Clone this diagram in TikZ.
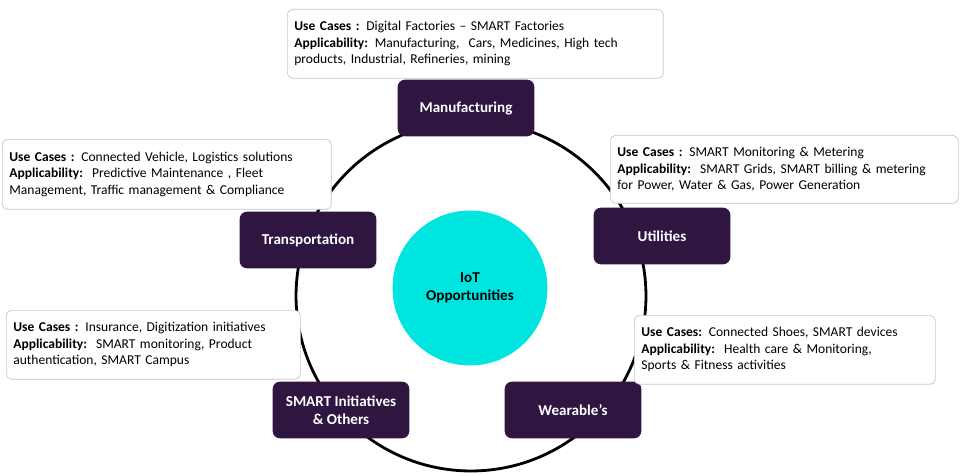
\documentclass[tikz,border=0pt]{standalone}
\usepackage{fontspec}
\setmainfont{Carlito}
\definecolor{plum}{HTML}{2E1641}
\definecolor{aqua}{HTML}{00E5E0}
\begin{document}
\begin{tikzpicture}[x=0.02cm,y=-0.02cm,
	sector/.style={draw=plum,fill=plum,rounded corners=4pt,minimum width=2.72cm,minimum height=1.12cm,
		text=white,font=\fontsize{8.6}{10}\selectfont\bfseries,align=center},
	usebox/.style={draw=black!22,fill=white,rounded corners=3pt,anchor=north west,align=left,
		inner sep=4pt,font=\fontsize{7.7}{9.4}\selectfont}]
	\useasboundingbox (0,0) rectangle (970,476);
	% ring and centre
	\draw[line width=1.6pt] (471,296) circle[radius=3.5cm];
	\node[circle,fill=aqua,minimum size=3.1cm,font=\fontsize{8.6}{10}\selectfont\bfseries,align=center] (iot) at (470,288) {IoT\\Opportunities};
	% sectors
	\node[sector] (manu) at (466,108) {Manufacturing};
	\node[sector] (trans) at (308,240) {Transportation};
	\node[sector] (util) at (662,236) {Utilities};
	\node[sector] (smart) at (341,410) {SMART Initiatives\\\& Others};
	\node[sector] (wear) at (573,410) {Wearable's};
	% use cases
	\node[usebox,minimum width=7.52cm,minimum height=1.38cm,text width=7.24cm] (manubox) at (287,9)
		{\textbf{Use Cases :} Digital Factories -- SMART Factories\\\textbf{Applicability:} Manufacturing,\ \ Cars, Medicines, High tech\\products, Industrial, Refineries, mining};
	\node[usebox,minimum width=6.58cm,minimum height=1.4cm,text width=6.3cm] (transbox) at (2,139)
		{\textbf{Use Cases :} Connected Vehicle, Logistics solutions\\\textbf{Applicability:}\ \ Predictive Maintenance , Fleet\\Management, Traffic management \& Compliance};
	\node[usebox,minimum width=6.96cm,minimum height=1.36cm,text width=6.68cm] (utilbox) at (610,135)
		{\textbf{Use Cases :} SMART Monitoring \& Metering\\\textbf{Applicability:}\ \ SMART Grids, SMART billing \& metering\\for Power, Water \& Gas, Power Generation};
	\node[usebox,minimum width=5.88cm,minimum height=1.38cm,text width=5.6cm] (smartbox) at (6,310)
		{\textbf{Use Cases :} Insurance, Digitization initiatives\\\textbf{Applicability:}\ \ SMART monitoring, Product\\authentication, SMART Campus};
	\node[usebox,minimum width=6.02cm,minimum height=1.38cm,text width=5.74cm] (wearbox) at (634,315)
		{\textbf{Use Cases:} Connected Shoes, SMART devices\\\textbf{Applicability:}\ \ Health care \& Monitoring,\\Sports \& Fitness activities};
\end{tikzpicture}
\end{document}
